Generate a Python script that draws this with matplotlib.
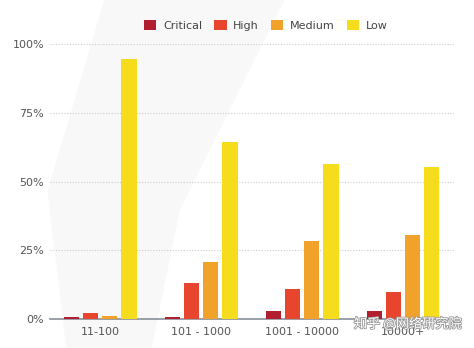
import matplotlib
matplotlib.use("Agg")
import matplotlib.pyplot as plt
import matplotlib.patheffects as pe
from matplotlib.patches import Polygon
import numpy as np

categories = ["11-100", "101 - 1000", "1001 - 10000", "10000+"]
severities = ["Critical", "High", "Medium", "Low"]
critical = [0.9, 0.9, 2.9, 2.9]
high = [2.4, 13.0, 10.9, 9.8]
medium = [1.1, 20.7, 28.4, 30.5]
low = [94.5, 64.4, 56.4, 55.3]
colors = ["#b01e2f", "#e8452f", "#f0a22a", "#f5dc1c"]

fig = plt.figure(figsize=(4.74, 3.48), dpi=100)
fig.patch.set_facecolor("white")

ax = fig.add_axes([0.105, 0.083, 0.852, 0.79])
ax.patch.set_alpha(0)

# faint background shape behind the chart
bg = Polygon([(0.22, 1.0), (0.60, 1.0), (0.38, 0.40), (0.32, 0.0), (0.14, 0.0),
              (0.10, 0.45)],
             closed=True, transform=fig.transFigure, facecolor="#f8f8f8",
             edgecolor="none", zorder=0, clip_on=False)
ax.add_patch(bg)

x = np.arange(len(categories))
step = 0.19
width = 0.15
handles = []
for i, (name, vals) in enumerate(zip(severities, [critical, high, medium, low])):
    h = ax.bar(x + (i - 1.5) * step, vals, width, color=colors[i], label=name, zorder=3)
    handles.append(h)

ax.set_xlim(-0.5, 3.5)
ax.set_ylim(0, 100)
ax.set_yticks([0, 25, 50, 75, 100])
ax.set_yticklabels(["0%", "25%", "50%", "75%", "100%"])
ax.set_xticks(x)
ax.set_xticklabels(categories)
ax.tick_params(length=0, labelsize=8, colors="#555555", pad=6)
ax.tick_params(axis="y", pad=4)
for spine in ["top", "right", "left"]:
    ax.spines[spine].set_visible(False)
ax.spines["bottom"].set_color("#8a8f99")
ax.spines["bottom"].set_linewidth(1.2)
ax.spines["bottom"].set_zorder(2)
for yv in [25, 50, 75, 100]:
    ax.axhline(yv, color="#cccccc", lw=0.8, ls=(0, (1, 1.5)), zorder=1)

fig.legend(handles, severities, loc="center", bbox_to_anchor=(0.561, 0.928), ncol=4,
           frameon=False, fontsize=8, labelcolor="#444444", handlelength=1.1,
           handleheight=1.1, columnspacing=1.1, handletextpad=0.6)

fig.text(0.975, 0.058, "知乎 @网络研究院", fontsize=9.5, color="white", ha="right",
         family=["Noto Sans CJK SC", "DejaVu Sans"],
         path_effects=[pe.withStroke(linewidth=1.2, foreground="#999999")], zorder=10)

fig.savefig("out.png", dpi=100, facecolor="white")
